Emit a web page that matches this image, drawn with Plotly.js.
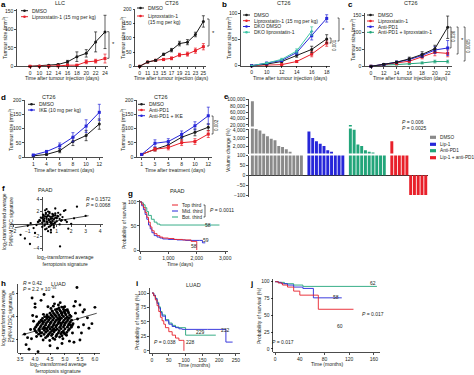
<!DOCTYPE html>
<html><head><meta charset="utf-8">
<script src="https://cdn.plot.ly/plotly-3.0.1.min.js"></script>
<style>html,body{margin:0;padding:0;background:#fff}</style>
</head><body><div id="c" style="width:474px;height:375px"></div>
<script>
// ---------- DATA ----------
// a LLC
const llcDays = ["0","10","12","14","16","18","20","22","24"];
const llcDMSO = [0,1,3,5,12,26,35,66,93];
const llcDMSOErr = [0,0.5,1,2,4,13,10,27,45];
const llcLip = [0,0,0,1,3,3,12,14,21];
const llcLipErr = [0,0,0,0.5,1,1,5,5,12];
// a CT26
const ctDays = ["0","11","13","15","17","19","21","23","25"];
const ctDMSO = [0,15,21,42,57,80,85,112,158];
const ctDMSOErr = [0,2,3,4,6,8,9,8,20];
const ctLip = [0,15,21,24,28,40,43,55,69];
const ctLipErr = [0,2,3,4,5,6,7,9,11];
// b
const bDays = ["0","10","12","14","16","18"];
const bDMSO = [0,3,8,20,31,51];
const bDMSOErr = [0,1,2,4,6,8];
const bLip = [0,1,2,8,22,43];
const bLipErr = [0,0.5,1,2,5,6];
const bDKO = [0,5,10,25,57,90];
const bDKOErr = [0,1,2,4,8,7];
const bDKOLip = [0,5,12,28,66];
const bDKOLipErr = [0,1,2,4,8];
// c
const cDays = ["0","12","14","16","18","20","22"];
const cDMSO = [0,6,12,22,35,52,115];
const cDMSOErr = [0,2,3,5,8,10,33];
const cLip = [0,5,8,15,28,41,38];
const cLipErr = [0,1,2,4,6,10,10];
const cPD1 = [0,5,12,20,32,48,54];
const cPD1Err = [0,2,3,4,6,10,22];
const cCombo = [0,4,5,7,10,14,14];
const cComboErr = [0,1,1,2,3,4,4];
// d left
const dDays1 = ["1","4","6","8","10","12"];
const dDMSO = [5,10,23,55,76,116];
const dDMSOErr = [2,3,7,14,18,18];
const dIKE = [8,20,40,70,109,157];
const dIKEErr = [2,4,10,16,22,28];
// d right
const dDays2 = ["1","3","5","8","10","12"];
const d2DMSO = [10,28,43,70,87,105];
const d2DMSOErr = [2,6,8,10,12,12];
const d2PD1 = [10,28,34,51,55,81];
const d2PD1Err = [2,6,8,10,10,12];
const d2Combo = [10,49,55,80,110,145];
const d2ComboErr = [2,12,10,12,14,30];
// e waterfall (% volume change)
const eDMSO = [95000,4100,3900,3500,3200,2900,2700,2000,1900,1600,1300,600,500,300];
const eLip = [3800,3000,2600,2300,2000,1500,1300,800,500,300];
const ePD1 = [20000,4000,2200,2000,1500,1300,1200,700,500,300];
const eCombo = [2600,800,500,300,200,-100,-100,-100,-100,-100];
// f PAAD scatter
const fX = [0.1,0.3,0.5,0.7,0.2,0.4,0.6,0.8,1.0,0.0,-0.2,0.35,0.55,0.75,0.95,1.2,0.15,0.45,0.65,0.85,
  1.05,-0.1,0.25,0.5,0.7,0.9,1.1,1.3,0.05,0.3,0.6,0.8,0.4,0.2,0.0,-0.3,1.4,1.6,0.9,0.5,
  0.1,0.3,0.7,1.0,1.2,-0.4,0.2,0.6,0.8,0.45,0.65,0.3,0.15,0.9,1.1,0.55,0.35,0.75,0.05,-0.15,
  0.25,0.85,1.25,0.4,0.6,0.2,0.0,0.5,0.7,1.5,-0.6,-1.5,-1.2,-0.85,1.23,1.6,2.4,3.0,2.0,1.8,
  -0.5,-0.8,0.3,0.9,1.7,2.2,-1.0,0.1,0.6,1.35,0.45,0.8,-0.25,0.15,1.0,0.35];
const fY = [0.5,0.8,0.6,0.9,1.2,1.4,1.1,0.7,0.4,0.2,0.6,0.0,0.3,1.5,1.0,0.8,-0.3,-0.5,-0.2,0.1,
  1.3,1.0,1.8,1.9,1.6,1.7,1.2,0.5,1.5,-0.8,-1.0,-0.6,2.0,2.2,0.9,0.3,1.1,0.6,0.2,1.2,
  0.7,0.4,0.5,0.9,-0.1,-0.2,-0.1,0.8,1.3,0.6,0.2,1.1,0.9,1.4,1.8,-0.4,0.3,0.0,1.1,0.5,
  1.6,0.9,1.5,-1.2,-1.4,-0.9,-0.5,1.7,1.2,2.1,-0.7,-1.8,-2.4,-3.3,-3.7,2.25,2.8,1.3,0.0,-0.8,
  -1.5,0.1,2.4,2.5,0.3,0.9,-0.3,1.4,0.1,0.6,0.75,-0.3,0.35,0.45,1.0,1.25];
const fRegX = [-1.9,3.2];
const fRegY = [-0.64,1.32];
// g PAAD KM (days, %)
const gTopT = [0,60,120,180,240,300,360,420,500,600,700,800,1000,1200,1500,1800,2000,2000];
const gTopS = [100,95,88,78,68,58,48,40,34,30,27,25,24,22,21,18,18,0];
const gMidT = [0,60,120,180,240,300,360,420,500,600,700,800,1000,1300,1600,2100,2200,2300];
const gMidS = [100,92,84,74,64,52,44,36,30,27,25,23,22,21,20,20,15,15];
const gBotT = [0,60,120,180,240,300,400,500,600,700,2800];
const gBotS = [100,98,94,88,80,72,64,58,54,52,52];
// h LUAD scatter
const hX = [4.35,4.6,4.82,4.2,4.41,4.55,4.71,4.9,5.05,4.12,4.3,4.46,4.58,4.73,4.86,5.01,4.05,4.23,4.36,4.51,
  4.63,4.78,4.9,5.06,4.0,4.15,4.31,4.42,4.56,4.68,4.81,4.95,5.11,3.98,4.13,4.26,4.39,4.5,4.63,4.74,
  4.87,5.0,5.15,4.02,4.17,4.3,4.44,4.56,4.7,4.82,4.95,5.08,5.21,4.06,4.2,4.35,4.47,4.61,4.72,4.86,
  4.98,5.11,5.24,4.1,4.25,4.37,4.51,4.63,4.77,4.88,5.01,5.13,5.27,4.14,4.28,4.42,4.54,4.67,4.79,4.93,
  5.05,5.18,4.2,4.33,4.46,4.59,4.71,4.83,4.96,5.09,5.22,4.25,4.39,4.51,4.63,4.76,4.88,5.01,5.14,4.32,
  4.45,4.58,4.71,4.82,4.95,5.08,5.2,4.4,4.54,4.66,4.79,4.9,5.03,5.16,4.5,4.62,4.75,4.88,5.0,5.12,
  4.58,4.72,4.85,4.98,5.1,4.68,4.82,4.95,5.08,4.8,4.95,
  4.27,4.49,4.66,4.93,4.18,4.44,4.7,4.97,4.08,4.34,4.6,4.85,5.17,4.24,4.52,4.8,5.06,4.4,4.68,4.91,
  4.57,4.74,4.89,5.04,4.43,4.61,4.28,4.53,4.78,4.99,4.65,4.84,
  3.65,3.7,3.8,4.1,3.9,4.0,5.4,6.0,5.9,5.5,5.3,3.85,3.95,4.05,5.6,5.75,5.45,5.35,5.65,3.75,
  4.9,5.25,5.5,4.2,4.5,3.92,4.15,5.55,5.8,5.3,4.6,4.05,5.42,3.88,5.15,4.75,5.62,4.0,5.35,4.3];
const hY = [2.2,2.15,2.25,2.35,2.32,2.38,2.34,2.36,2.4,2.5,2.48,2.52,2.5,2.47,2.53,2.5,2.65,2.63,2.66,2.64,
  2.68,2.62,2.66,2.65,2.8,2.78,2.82,2.8,2.79,2.83,2.8,2.78,2.82,2.95,2.93,2.97,2.95,2.94,2.96,2.93,
  2.97,2.95,2.94,3.1,3.08,3.12,3.1,3.09,3.11,3.08,3.12,3.1,3.09,3.25,3.23,3.27,3.25,3.24,3.26,3.23,
  3.27,3.25,3.24,3.4,3.38,3.42,3.4,3.39,3.41,3.38,3.42,3.4,3.39,3.55,3.53,3.57,3.55,3.54,3.56,3.53,
  3.57,3.55,3.7,3.68,3.72,3.7,3.69,3.71,3.68,3.72,3.7,3.85,3.83,3.87,3.85,3.84,3.86,3.83,3.87,4.0,
  3.98,4.02,4.0,3.99,4.01,3.98,4.02,4.15,4.13,4.17,4.15,4.14,4.16,4.13,4.3,4.28,4.32,4.3,4.29,4.31,
  4.45,4.43,4.47,4.45,4.44,4.6,4.58,4.62,4.6,4.75,4.78,
  2.0,1.95,2.05,2.1,2.6,2.42,2.3,2.58,3.3,3.0,2.88,3.45,3.3,3.6,3.5,3.78,3.92,3.95,4.1,4.35,
  4.5,4.65,4.82,4.55,4.85,4.9,4.2,4.7,5.0,4.85,5.1,5.2,
  2.5,1.6,1.2,1.0,5.6,4.8,6.5,4.8,3.4,2.0,1.8,2.9,3.6,2.3,4.4,3.9,3.1,5.3,4.6,2.2,
  1.7,2.6,5.0,5.4,1.5,4.1,3.5,2.6,3.0,4.9,5.7,4.0,3.8,2.1,1.9,1.3,3.3,5.1,4.3,5.9];
const hRegX = [3.56,6.06];
const hRegY = [2.43,4.29];
// i LUAD KM (months, %)
const iRedT = [0,5,10,15,20,25,30,35,40,50,60,70,80,90,95,95];
const iRedS = [100,95,88,78,68,58,52,46,40,33,27,22,18,18,10,0];
const iBluT = [0,5,10,15,20,25,30,40,50,60,70,80,90,100,165,220,240];
const iBluS = [100,96,90,82,74,66,60,52,46,42,40,38,37,37,37,15,15];
const iGrnT = [0,5,10,15,20,25,30,40,50,60,70,80,100,190];
const iGrnS = [100,96,91,84,76,68,62,54,48,44,41,40,27,27];
// j LUAD KM (months, %)
const jGrnT = [0,5,15,30,45,165];
const jGrnS = [100,99,97,95,93,93];
const jBluT = [0,5,10,20,30,45,62,108];
const jBluS = [100,99,97,95,92,90,76,76];
const jRedT = [0,5,12,20,30,40,70,127];
const jRedS = [100,98,95,92,86,80,59,59];

// ---------- HELPERS ----------
const W=474,H=375;
const X=v=>v/W, Y=v=>1-v/H;
const FONT='Liberation Sans, Arial, Helvetica, sans-serif';
const TXT='#231f20';
const K='#1a1a1a', R='#e8202a', B='#2626d9', G='#22a57a', GR='#8a8a8a', CY='#3cc4a4';
const traces=[], shapes=[], anns=[];
function ax(extra){return Object.assign({showline:true,linecolor:'#000',linewidth:0.7,ticks:'outside',ticklen:2,tickwidth:0.7,tickcolor:'#000',showgrid:false,zeroline:false,automargin:false,fixedrange:true,tickfont:{size:5,family:FONT,color:TXT}},extra);}
function line(xa,ya,x,y,e,c,sym){traces.push({type:'scatter',mode:'lines+markers',x:x,y:y.slice(),xaxis:xa,yaxis:ya,cliponaxis:false,
  line:{color:c,width:1},marker:{color:c,size:3,symbol:sym||'circle'},
  error_y:{type:'data',array:e,visible:true,color:c,thickness:0.7,width:1.5}});}
function t(text,x,y,o){o=o||{};anns.push({text:text,x:X(x),y:Y(y),xref:'paper',yref:'paper',showarrow:false,
  xanchor:o.xa||'center',yanchor:'middle',textangle:o.rot||0,font:{size:o.s||5.5,family:FONT,color:o.c||TXT,weight:o.w||'normal'},align:o.al||'center'});}
function seg(x0,y0,x1,y1,c,w){shapes.push({type:'line',xref:'paper',yref:'paper',x0:X(x0),y0:Y(y0),x1:X(x1),y1:Y(y1),line:{color:c||'#000',width:w||0.7}});}
function legLine(x,y,c,label){seg(x,y,x+7,y,c,1);shapes.push({type:'circle',xref:'paper',yref:'paper',x0:X(x+2.2),x1:X(x+4.8),y0:Y(y+1.3),y1:Y(y-1.3),fillcolor:c,line:{width:0}});t(label,x+9,y,{xa:'left',s:5});}
function bracket(x,y0,y1,w){shapes.push({type:'path',xref:'paper',yref:'paper',path:`M${X(x-w)},${Y(y0)} L${X(x)},${Y(y0)} L${X(x)},${Y(y1)} L${X(x-w)},${Y(y1)}`,line:{color:'#000',width:0.6}});}
function startArrow(xa,ya,xv,yv,text,ay){anns.push({text:text,x:xv,y:yv,xref:xa,yref:ya,showarrow:true,arrowhead:2,arrowsize:0.8,arrowwidth:0.7,ax:0,ay:ay,font:{size:5,family:FONT,color:TXT},standoff:0});}

const layout={width:W,height:H,margin:{l:0,r:0,t:0,b:0},showlegend:false,paper_bgcolor:'#fff',plot_bgcolor:'rgba(0,0,0,0)',
  font:{family:FONT,size:5,color:TXT},bargap:0.22};

// ---------- a LLC ----------
layout.xaxis=ax({domain:[X(17),X(108)],anchor:'y',type:'category',categoryorder:'array',categoryarray:llcDays,range:[-1.39,8.32]});
layout.yaxis=ax({domain:[Y(66.3),Y(9)],anchor:'x',range:[0,155],tickvals:[0,50,100,150]});
line('x','y',llcDays,llcDMSO,llcDMSOErr,K,'circle');
line('x','y',llcDays,llcLip,llcLipErr,R,'square');
startArrow('x','y','10',10,'Start treatment',-15);
bracket(109,31.7,58.3,2); t('*',113,44,{s:6});
legLine(21,10.7,K,'DMSO'); legLine(21,16.7,R,'Liproxstatin-1 (15 mg per kg)');
t('LLC',60,3.5); t('Tumour size (mm<sup>3</sup>)',5,38,{rot:-90,s:5}); t('Time after tumour injection (days)',62,78,{s:5});

// ---------- a CT26 ----------
layout.xaxis2=ax({domain:[X(135.3),X(206)],anchor:'y2',type:'category',categoryorder:'array',categoryarray:ctDays,range:[-0.55,8.33]});
layout.yaxis2=ax({domain:[Y(66.3),Y(9.5)],anchor:'x2',range:[0,200],tickvals:[0,50,100,150,200]});
line('x2','y2',ctDays,ctLip,ctLipErr,R,'square');
line('x2','y2',ctDays,ctDMSO,ctDMSOErr,K,'circle');
startArrow('x2','y2','11',25,'Start<br>treatment',-14);
bracket(209,19,46,2); t('*',213,33,{s:6});
legLine(137,8,K,'DMSO'); legLine(137,16,R,'Liproxstatin-1'); t('(15 mg per kg)',146,21.5,{xa:'left',s:5});
t('CT26',171,3.5); t('Tumour size (mm<sup>3</sup>)',123,38,{rot:-90,s:5}); t('Time after tumour injection (days)',171,78,{s:5});

// ---------- b ----------
layout.xaxis3=ax({domain:[X(241),X(330)],anchor:'y3',type:'category',categoryorder:'array',categoryarray:bDays,range:[-0.71,5.22]});
layout.yaxis3=ax({domain:[Y(65.7),Y(10)],anchor:'x3',range:[0,106],tickvals:[0,50,100]});
line('x3','y3',bDays,bLip,bLipErr,R,'square');
line('x3','y3',bDays,bDMSO,bDMSOErr,K,'circle');
line('x3','y3',bDays,bDKO,bDKOErr,B,'square');
line('x3','y3',bDays.slice(0,5),bDKOLip,bDKOLipErr,CY,'triangle-up');
startArrow('x3','y3','10',10,'Start treatment',-15);
bracket(331,38,43,1.5); t('0.001',334,45,{rot:-90,s:4.5});
bracket(339,18,41,1.5); t('*',343,30,{s:6});
legLine(243,15,K,'DMSO'); legLine(243,20.7,R,'Liproxstatin-1 (15 mg per kg)'); legLine(243,26.5,B,'DKO DMSO'); legLine(243,32.2,CY,'DKO liproxstatin-1');
t('CT26',283,3.5); t('Tumour size (mm<sup>3</sup>)',229,38,{rot:-90,s:5}); t('Time after tumour injection (days)',290,78,{s:5});

// ---------- c ----------
layout.xaxis4=ax({domain:[X(365),X(452)],anchor:'y4',type:'category',categoryorder:'array',categoryarray:cDays,range:[-0.47,6.34]});
layout.yaxis4=ax({domain:[Y(66.3),Y(13)],anchor:'x4',range:[0,157],tickvals:[0,50,100,150]});
line('x4','y4',cDays,cCombo,cComboErr,G,'triangle-up');
line('x4','y4',cDays,cLip,cLipErr,R,'square');
line('x4','y4',cDays,cPD1,cPD1Err,B,'square');
line('x4','y4',cDays,cDMSO,cDMSOErr,K,'circle');
startArrow('x4','y4','12',8,'Start treatment',-16);
bracket(451,27,48,1.5); t('0.036',454,36,{rot:-90,s:4.5});
bracket(458,27,54,1.5); t('*',462,40,{s:6});
bracket(465,27,61,1.5); t('0.0005',468,46,{rot:-90,s:4.5});
legLine(367,15,K,'DMSO'); legLine(367,21,R,'Liproxstatin-1'); legLine(367,26.7,B,'Anti-PD1'); legLine(367,32.3,G,'Anti-PD1 + liproxstatin-1');
t('CT26',410,3.5); t('Tumour size (mm<sup>3</sup>)',353,40,{rot:-90,s:5}); t('Time after tumour injection (days)',410,78,{s:5});

// ---------- d left ----------
layout.xaxis5=ax({domain:[X(25),X(103)],anchor:'y5',type:'category',categoryorder:'array',categoryarray:dDays1,range:[-0.63,5.28]});
layout.yaxis5=ax({domain:[Y(157.3),Y(100)],anchor:'x5',range:[0,200],tickvals:[0,50,100,150,200]});
line('x5','y5',dDays1,dDMSO,dDMSOErr,K,'circle');
line('x5','y5',dDays1,dIKE,dIKEErr,B,'square');
legLine(28,104.3,K,'DMSO'); legLine(28,110,B,'IKE (10 mg per kg)');
t('CT26',48,97); t('Tumour size (mm<sup>3</sup>)',11,130,{rot:-90,s:5}); t('Time after treatment (days)',64,170,{s:5});

// ---------- d right ----------
layout.xaxis6=ax({domain:[X(137),X(212)],anchor:'y6',type:'category',categoryorder:'array',categoryarray:dDays2,range:[-0.35,5.28]});
layout.yaxis6=ax({domain:[Y(157.3),Y(100)],anchor:'x6',range:[0,200],tickvals:[0,50,100,150,200]});
line('x6','y6',dDays2,d2DMSO,d2DMSOErr,K,'circle');
line('x6','y6',dDays2,d2PD1,d2PD1Err,R,'square');
line('x6','y6',dDays2,d2Combo,d2ComboErr,B,'square');
bracket(213,116,134,1.5); t('0.002',217,125,{rot:-90,s:4.5});
legLine(138,104.3,K,'DMSO'); legLine(138,110,R,'Anti-PD1'); legLine(138,115.7,B,'Anti-PD1 + IKE');
t('CT26',160,97); t('Tumour size (mm<sup>3</sup>)',123,130,{rot:-90,s:5}); t('Time after treatment (days)',175,170,{s:5});

// ---------- e ----------
const eCats=[];
const idD=eDMSO.map((v,i)=>'D'+i), idL=eLip.map((v,i)=>'L'+i), idP=ePD1.map((v,i)=>'P'+i), idC=eCombo.map((v,i)=>'C'+i);
eCats.push(...idD,'g1',...idL,'g2',...idP,'g3',...idC);
layout.xaxis7=ax({domain:[X(249),X(428)],anchor:'y9',type:'category',categoryorder:'array',categoryarray:eCats,range:[-0.9,eCats.length-0.4],visible:false});
layout.yaxis7=ax({domain:[Y(126.5),Y(99)],anchor:'x7',range:[15000,102000],tickvals:[20000,40000,60000,80000,100000],tickformat:',d'});
layout.yaxis8=ax({domain:[Y(153.5),Y(128.5)],anchor:'x7',range:[1090,4156],tickvals:[2000,3000,4000],tickformat:',d'});
layout.yaxis9=ax({domain:[Y(197),Y(155.5)],anchor:'x7',range:[-110,101],tickvals:[-100,-50,0,50,100],zeroline:true,zerolinecolor:'#000',zerolinewidth:0.8});
[[idD,eDMSO,GR],[idL,eLip,B],[idP,ePD1,G],[idC,eCombo,R]].forEach(([ids,vals,c])=>{
  ['y7','y8','y9'].forEach(ya=>traces.push({type:'bar',x:ids,y:vals,xaxis:'x7',yaxis:ya,marker:{color:c,line:{width:0}}}));
});
t('<i>P</i> = 0.006',400,122.3,{xa:'left',s:5}); t('<i>P</i> = 0.0025',400,128.3,{xa:'left',s:5});
[['DMSO',GR,137.3],['Lip-1',B,144.3],['Anti-PD1',G,150.7],['Lip-1 + anti-PD1',R,157.7]].forEach(([l,c,y])=>{
  shapes.push({type:'rect',xref:'paper',yref:'paper',x0:X(430),x1:X(436),y0:Y(y+1.6),y1:Y(y-1.6),fillcolor:c,line:{width:0}});
  t(l,437.5,y,{xa:'left',s:4.7});
});
t('Volume change (%)',228,150,{rot:-90,s:5});

// ---------- f ----------
layout.xaxis10=ax({domain:[X(10),X(103)],anchor:'free',position:Y(223.8),range:[-2.23,4.2],tickvals:[-2,-1,1,2,3,4]});
layout.yaxis10=ax({domain:[Y(251),Y(197)],anchor:'free',position:X(42.2),range:[-4.44,4.38],tickvals:[-4,-2,2,4]});
traces.push({type:'scatter',mode:'markers',x:fX,y:fY,xaxis:'x10',yaxis:'y10',marker:{color:'#000',size:2.3},cliponaxis:false});
traces.push({type:'scatter',mode:'lines',x:fRegX,y:fRegY,xaxis:'x10',yaxis:'y10',line:{color:'#000',width:0.7}});
t('<i>R</i> = 0.1572',84,199,{xa:'left',s:5}); t('<i>P</i> = 0.0068',84,205,{xa:'left',s:5});
t('PAAD',45,190); t('log<sub>2</sub>-transformed average<br>ferroptosis signature',65,260,{s:5});
t('log<sub>2</sub>-transformed average<br>PMN-MDSC signature',7,222,{rot:-90,s:5});

// ---------- g ----------
layout.xaxis11=ax({domain:[X(140),X(228)],anchor:'y11',range:[0,3100],tickvals:[0,1000,2000,3000],ticktext:['0','1,000','2,000','3,000']});
layout.yaxis11=ax({domain:[Y(251),Y(200)],anchor:'x11',range:[-2,104],tickvals:[0,50,100]});
[[gBotT,gBotS,G],[gMidT,gMidS,B],[gTopT,gTopS,R]].forEach(([x,y,c])=>traces.push({type:'scatter',mode:'lines',x:x,y:y,xaxis:'x11',yaxis:'y11',line:{color:c,width:0.9,shape:'hv'}}));
t('58',208,225,{s:5}); t('59',206,240,{s:5}); t('58',194,246,{s:5});
[['Top third',R,205],['Mid. third',B,211],['Bot. third',G,217]].forEach(([l,c,y])=>{seg(172,y,178,y,c,1);t(l,180,y,{xa:'left',s:5});});
bracket(205,205,217,1.5); t('<i>P</i> = 0.0011',208,210,{xa:'left',s:5});
t('PAAD',177,191); t('Probability of survival',124,226,{rot:-90,s:5}); t('Time (days)',180,264,{s:5});

// ---------- h ----------
layout.xaxis12=ax({domain:[X(18.3),X(100)],anchor:'y12',range:[3.44,6.17],tickvals:[3.5,4,4.5,5,5.5,6],tickformat:'.1f'});
layout.yaxis12=ax({domain:[Y(352.7),Y(284)],anchor:'x12',range:[0.91,6.8],tickvals:[2,4,6]});
traces.push({type:'scatter',mode:'markers',x:hX,y:hY,xaxis:'x12',yaxis:'y12',marker:{color:'#000',size:2.9},cliponaxis:false});
traces.push({type:'scatter',mode:'lines',x:hRegX,y:hRegY,xaxis:'x12',yaxis:'y12',line:{color:'#000',width:0.7}});
t('<i>R</i> = 0.42',21,283,{xa:'left',s:5}); t('<i>P</i> = 2.2 × 10<sup>−16</sup>',21,289,{xa:'left',s:5});
t('LUAD',58,284); t('log<sub>2</sub>-transformed average<br>ferroptosis signature',58,367,{s:5});
t('log<sub>2</sub>-transformed average<br>PMN-MDSC signature',6,318,{rot:-90,s:5});

// ---------- i ----------
layout.xaxis13=ax({domain:[X(150),X(240)],anchor:'y13',range:[-6,262],tickvals:[0,50,100,150,200,250]});
layout.yaxis13=ax({domain:[Y(353),Y(288)],anchor:'x13',range:[-3.9,108.7],tickvals:[0,25,50,75,100]});
[[iGrnT,iGrnS,G],[iBluT,iBluS,B],[iRedT,iRedS,R]].forEach(([x,y,c])=>traces.push({type:'scatter',mode:'lines',x:x,y:y,xaxis:'x13',yaxis:'y13',line:{color:c,width:0.9,shape:'hv'}}));
t('232',225,330,{s:5}); t('229',200,332.3,{s:5}); t('228',190,341.7,{s:5}); t('<i>P</i> = 0.038',165,341.7,{s:5});
t('LUAD',193,285); t('Probability of survival (%)',137,322,{rot:-90,s:5}); t('Time (months)',194,365,{s:5});

// ---------- j ----------
layout.xaxis14=ax({domain:[X(273.3),X(380)],anchor:'y14',range:[-3,170],tickvals:[0,40,80,120,160]});
layout.yaxis14=ax({domain:[Y(352),Y(279)],anchor:'x14',range:[-4.5,104],tickvals:[0,25,50,75,100]});
[[jGrnT,jGrnS,G],[jBluT,jBluS,B],[jRedT,jRedS,R]].forEach(([x,y,c])=>traces.push({type:'scatter',mode:'lines',x:x,y:y,xaxis:'x14',yaxis:'y14',line:{color:c,width:0.9,shape:'hv'}}));
t('62',373,283,{s:5}); t('58',336,297,{s:5}); t('60',340,326,{s:5});
t('<i>P</i> = 0.017',373,314.3,{s:5}); t('<i>P</i> = 0.017',283,341.7,{s:5});
t('Probability of survival (%)',259,316,{rot:-90,s:5}); t('Time (months)',327,364,{s:5});

// ---------- panel letters ----------
[['a',3,4],['b',224,4],['c',350,4],['d',3,98],['e',226,96],['f',3,188],['g',130,193],['h',3,283],['i',137,283],['j',252,283]]
  .forEach(([l,x,y])=>t(l,x,y,{s:8,w:'bold',c:'#000'}));

layout.shapes=shapes; layout.annotations=anns;
Plotly.newPlot('c',traces,layout,{staticPlot:true,displayModeBar:false});
</script></body></html>
